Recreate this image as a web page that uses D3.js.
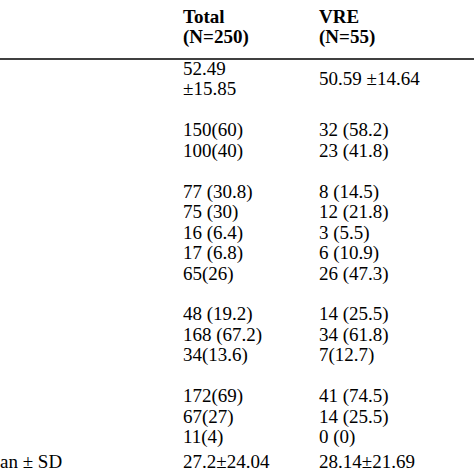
<!DOCTYPE html>
<html><head><meta charset="utf-8">
<script src="https://cdn.jsdelivr.net/npm/d3@7"></script>
<style>body{margin:0;background:#fff}</style>
</head><body>
<svg id="chart"></svg>
<script>
var headers = [["Total", "(N=250)"], ["VRE", "(N=55)"]];
var totalCol = ["52.49", "±15.85", "150(60)", "100(40)", "77 (30.8)", "75 (30)", "16 (6.4)", "17 (6.8)", "65(26)",
  "48 (19.2)", "168 (67.2)", "34(13.6)", "172(69)", "67(27)", "11(4)", "27.2±24.04"];
var totalSlots = [0, 1, 3, 4, 6, 7, 8, 9, 10, 12, 13, 14, 16, 17, 18, 19.2];
var vreCol = ["50.59 ±14.64", "32 (58.2)", "23 (41.8)", "8 (14.5)", "12 (21.8)", "3 (5.5)", "6 (10.9)", "26 (47.3)",
  "14 (25.5)", "34 (61.8)", "7(12.7)", "41 (74.5)", "14 (25.5)", "0 (0)", "28.14±21.69"];
var vreSlots = [0.5, 3, 4, 6, 7, 8, 9, 10, 12, 13, 14, 16, 17, 18, 19.2];
var rowLabels = ["an ± SD"];
var labelSlots = [19.2];

var width = 474, height = 474;
var svg = d3.select("#chart").attr("width", width).attr("height", height);

var y = d3.scaleLinear().domain([0, 1]).range([75, 95.45]);
var colX = [183, 319];

svg.append("line")
  .attr("x1", 0).attr("x2", width)
  .attr("y1", 59).attr("y2", 59)
  .style("stroke", "black").style("stroke-width", 1.3);

var font = "'Liberation Serif', 'Times New Roman', serif";

headers.forEach(function (h, i) {
  h.forEach(function (t, j) {
    svg.append("text")
      .attr("x", colX[i]).attr("y", 23 + j * 20)
      .style("font-family", font).style("font-size", "19px").style("font-weight", "bold")
      .text(t);
  });
});

function column(values, slots, x) {
  svg.append("g").selectAll("text")
    .data(values)
    .enter().append("text")
    .attr("x", x)
    .attr("y", function (d, i) { return y(slots[i]); })
    .style("font-family", font).style("font-size", "19px")
    .text(function (d) { return d; });
}

column(totalCol, totalSlots, colX[0]);
column(vreCol, vreSlots, colX[1]);
column(rowLabels, labelSlots, 0);
</script>
</body></html>
